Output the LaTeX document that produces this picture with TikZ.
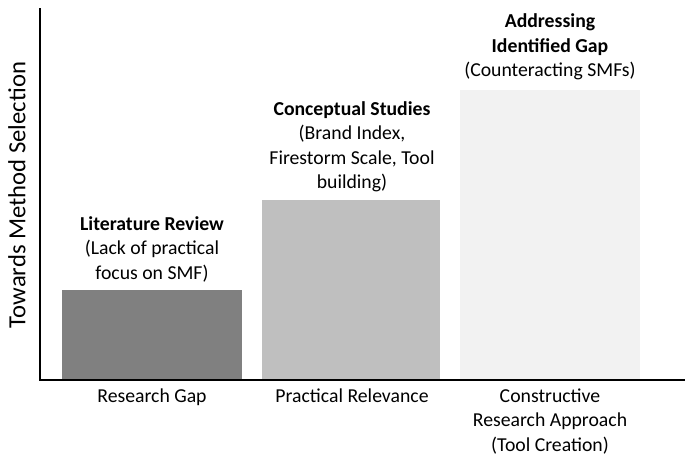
\documentclass[tikz,border=0pt]{standalone}
\usepackage{fontspec}
\setmainfont{Carlito}
\begin{document}
\begin{tikzpicture}[x=0.75pt,y=-0.75pt,
  lbl/.style={align=center,font=\fontsize{14.8}{18.3}\selectfont,inner sep=2pt},
  ax/.style={line width=1.5pt}]
\useasboundingbox (0,0) rectangle (685,464);
\fill[color={rgb,255:red,128;green,128;blue,128}] (62,290) rectangle (242,380);
\fill[color={rgb,255:red,191;green,191;blue,191}] (262,200) rectangle (440,380);
\fill[color={rgb,255:red,242;green,242;blue,242}] (460,90) rectangle (640,380);
\coordinate (o) at (40,380);
\coordinate (yt) at (40,8);
\coordinate (xr) at (685,380);
\draw[ax] (yt) -- (o) -- (xr);
\node[rotate=90,font=\fontsize{18.5}{22}\selectfont] (ylab) at (17,195) {Towards Method Selection};
\node[lbl,anchor=south] (t1) at (152,285) {\textbf{Literature Review}\\(Lack of practical\\focus on SMF)};
\node[lbl,anchor=south] (t2) at (352,195) {\textbf{Conceptual Studies}\\(Brand Index,\\Firestorm Scale, Tool\\building)};
\node[lbl,anchor=south] (t3) at (550,83) {\textbf{Addressing}\\\textbf{Identified Gap}\\(Counteracting SMFs)};
\node[lbl,anchor=north] (b1) at (152,386) {Research Gap};
\node[lbl,anchor=north] (b2) at (352,386) {Practical Relevance};
\node[lbl,anchor=north] (b3) at (550,386) {Constructive\\Research Approach\\(Tool Creation)};
\end{tikzpicture}
\end{document}
